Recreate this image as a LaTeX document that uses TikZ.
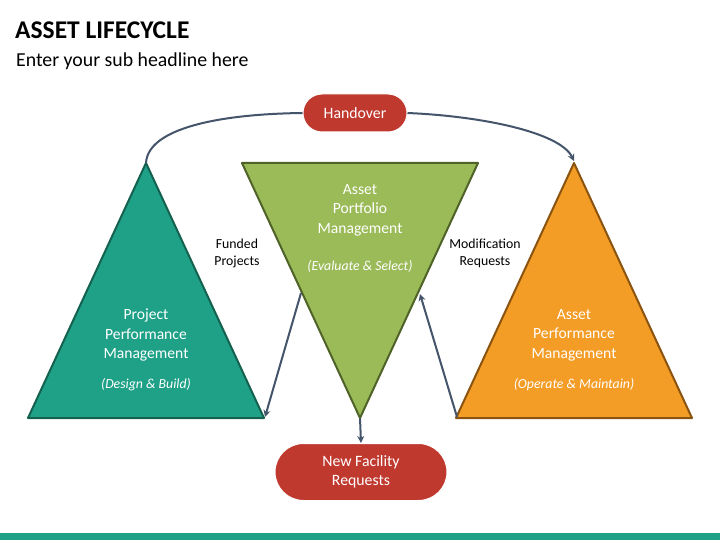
\documentclass[tikz,border=0pt]{standalone}
\usepackage{fontspec}
\setmainfont{Carlito}
\usetikzlibrary{arrows.meta,shapes.misc}
\definecolor{tealc}{HTML}{1FA187}
\definecolor{tealb}{HTML}{15614F}
\definecolor{greenc}{HTML}{9BBB59}
\definecolor{greenb}{HTML}{4F6228}
\definecolor{orangec}{HTML}{F39C26}
\definecolor{orangeb}{HTML}{8A5410}
\definecolor{redc}{HTML}{C0392F}
\definecolor{linkc}{HTML}{44546A}
\definecolor{barc}{HTML}{1FA187}
\tikzset{
  tri/.style={line width=2pt, line join=round},
  pill/.style={rounded rectangle, fill=redc, draw=white, line width=1pt, text=white, align=center, font=\fontsize{15.8}{19.5}\selectfont, inner sep=0pt},
  link/.style={draw=linkc, line width=2pt, -{Stealth[length=7pt,width=7pt]}},
  mtext/.style={text=white, align=center, font=\fontsize{15.6}{19.5}\selectfont},
  stext/.style={text=white, align=center, font=\fontsize{13.8}{16}\selectfont\itshape},
  ltext/.style={text=black, align=center, font=\fontsize{13.8}{17}\selectfont}
}
\begin{document}
\begin{tikzpicture}[x=1pt,y=-1pt]
\useasboundingbox (0,0) rectangle (720,540);
\fill[white] (0,0) rectangle (720,540);
% bottom bar
\fill[barc] (0,533) rectangle (720,540);
% titles
\node[anchor=west, inner sep=0pt, font=\fontsize{25.5}{28}\selectfont\bfseries] (title) at (15,30) {ASSET LIFECYCLE};
\node[anchor=west, inner sep=0pt, font=\fontsize{19.8}{23}\selectfont] (sub) at (16,61) {Enter your sub headline here};
% triangle vertices
\coordinate (tA) at (146,163);
\coordinate (tL) at (28,418);
\coordinate (tR) at (264,418);
\coordinate (gL) at (242,163);
\coordinate (gR) at (478,163);
\coordinate (gB) at (360,418);
\coordinate (oA) at (574,163);
\coordinate (oT) at (574,161);
\coordinate (oL) at (456,418);
\coordinate (oR) at (692,418);
% triangles
\draw[tri, fill=tealc, draw=tealb] (tA) -- (tL) -- (tR) -- cycle;
\draw[tri, fill=greenc, draw=greenb] (gL) -- (gR) -- (gB) -- cycle;
\draw[tri, fill=orangec, draw=orangeb] (oA) -- (oL) -- (oR) -- cycle;
% texts in triangles
\node[mtext] (gtxt) at (360,210) {Asset\\Portfolio\\Management};
\node[stext] (gsub) at (360,266) {(Evaluate \& Select)};
\node[mtext] (ttxt) at (146,335) {Project\\Performance\\Management};
\node[stext] (tsub) at (146,385) {(Design \& Build)};
\node[mtext] (otxt) at (574,335) {Asset\\Performance\\Management};
\node[stext] (osub) at (574,385) {(Operate \& Maintain)};
% labels
\node[ltext] (fund) at (237,253) {Funded\\Projects};
\node[ltext] (modr) at (485,253) {Modification\\Requests};
% pills
\node[pill, minimum width=104pt, minimum height=38pt] (hand) at (355,113) {Handover};
\node[pill, minimum width=172pt, minimum height=57pt] (newf) at (361,472) {New Facility\\Requests};
% connectors
\coordinate (fS) at (301,293);
\coordinate (fE) at (265,417);
\coordinate (mS) at (457,417);
\coordinate (mE) at (420,294);
\draw[draw=linkc, line width=2pt] (tA) .. controls (148,128) and (220,114) .. (hand.west);
\draw[link] (hand.east) .. controls (480,116) and (560,132) .. (oT);
\draw[link] (fS) -- (fE);
\draw[link] (mS) -- (mE);
\draw[link] (gB) -- (newf.north);
\end{tikzpicture}
\end{document}
